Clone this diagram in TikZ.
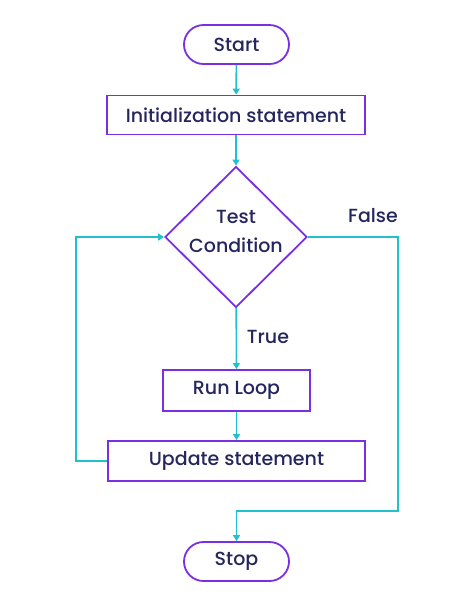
\documentclass[tikz,border=0pt]{standalone}
\usepackage{fontspec}
\setmainfont{Poppins}[UprightFont={* Medium}]
\usetikzlibrary{shapes.geometric,arrows.meta}
\definecolor{bord}{HTML}{7A2FE0}
\definecolor{flow}{HTML}{22C0CC}
\definecolor{txt}{HTML}{25265E}
\tikzset{
  lbl/.style={text=txt,font=\fontsize{19}{23}\selectfont},
  stad/.style={lbl,draw=bord,line width=1.8pt,rounded corners=19.5pt,minimum width=105pt,minimum height=39pt,inner sep=0pt},
  procbox/.style={lbl,draw=bord,line width=1.8pt,minimum height=39pt,inner sep=0pt},
  decis/.style={draw=bord,line width=1.8pt,diamond,minimum width=142pt,minimum height=141pt,inner sep=0pt},
  conn/.style={draw=flow,line width=1.6pt,-{Triangle[length=6pt,width=7pt]}},
}
\begin{document}
\begin{tikzpicture}[x=1pt,y=-1pt]
\useasboundingbox (0,0) rectangle (474,606);
\node[stad] (start) at (236.5,44.5) {Start};
\node[procbox,minimum width=258pt] (init) at (236,115) {Initialization statement};
\node[decis] (cond) at (236,237) {};
\node[lbl,align=center] (condtxt) at (236,231) {Test\\[6pt]Condition};
\node[procbox,minimum width=147pt,minimum height=41pt] (run) at (236.5,390.5) {Run Loop};
\node[procbox,minimum width=257pt,minimum height=40pt] (upd) at (236.5,461) {Update statement};
\node[stad] (stop) at (236.5,561.5) {Stop};
\node[lbl] (tlab) at (268,337) {True};
\node[lbl] (flab) at (373,216) {False};
\coordinate (fr) at (398,237);
\coordinate (fd) at (398,511);
\coordinate (fs) at (236.5,511);
\coordinate (ul) at (76,461);
\coordinate (uu) at (76,237);
\draw[conn] (start) -- (init);
\draw[conn] (init) -- (cond);
\draw[conn] (cond) -- (run);
\draw[conn] (run) -- (upd);
\draw[conn] (upd.west) -- (ul) -- (uu) -- (cond.west);
\draw[conn] (cond.east) -- (fr) -- (fd) -- (fs) -- (stop.north);
\end{tikzpicture}
\end{document}
